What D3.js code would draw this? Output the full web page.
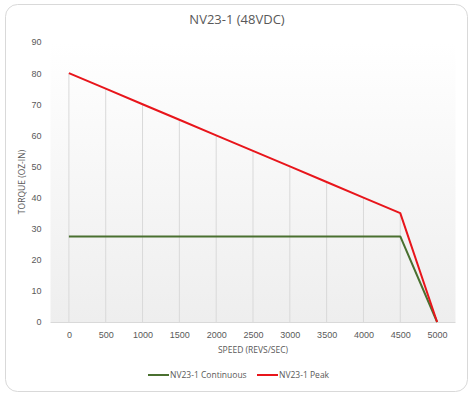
<!DOCTYPE html>
<html><head><meta charset="utf-8">
<script src="https://cdn.jsdelivr.net/npm/d3@7/dist/d3.min.js"></script>
<style>body{margin:0;background:#fff;}svg{display:block;font-family:"Open Sans","Liberation Sans",sans-serif;}</style>
</head><body>
<svg id="c" width="474" height="397"></svg>
<script>
const categories = [0,500,1000,1500,2000,2500,3000,3500,4000,4500,5000];
const continuous = [27.5,27.5,27.5,27.5,27.5,27.5,27.5,27.5,27.5,27.5,0];
const peak = [80,75,70,65,60,55,50,45,40,35,0];
const yTicks = [0,10,20,30,40,50,60,70,80,90];
const seriesNames = ["NV23-1 Continuous","NV23-1 Peak"];
const seriesColors = ["#4a7030","#e8151b"];

const svg = d3.select("#c");
const defs = svg.append("defs");
const g = defs.append("linearGradient").attr("id","bg").attr("x1",0).attr("y1",0).attr("x2",0).attr("y2",1);
g.append("stop").attr("offset","0%").attr("stop-color","#ffffff");
g.append("stop").attr("offset","100%").attr("stop-color","#eeeeee");

svg.append("rect").attr("x",5.5).attr("y",4.5).attr("width",462).attr("height",387)
  .attr("rx",12).attr("fill","#fff").attr("stroke","#d9d9d9");

const L=50.5,R=455.5,T=42,B=322;
const x = d3.scalePoint().domain(categories).range([L,R]).padding(0.5);
const y = d3.scaleLinear().domain([0,90]).range([B,T]);

svg.append("rect").attr("x",L).attr("y",T).attr("width",R-L).attr("height",B-T).attr("fill","url(#bg)");

// drop lines
svg.append("g").selectAll("line").data(categories).join("line")
  .attr("x1",d=>x(d)).attr("x2",d=>x(d))
  .attr("y1",(d,i)=>y(Math.max(peak[i],continuous[i]))).attr("y2",B)
  .attr("stroke","#d9d9d9").attr("stroke-width",1);

// x axis
svg.append("line").attr("x1",L).attr("x2",R).attr("y1",B+0.5).attr("y2",B+0.5).attr("stroke","#d9d9d9");
const xa = svg.append("g").attr("transform",`translate(0,${B})`)
  .call(d3.axisBottom(x).tickSize(0).tickPadding(10));
xa.select(".domain").remove();
xa.selectAll("text").attr("fill","#595959").style("font-size","9px");

const ya = svg.append("g").attr("transform",`translate(${L},0)`)
  .call(d3.axisLeft(y).tickValues(yTicks).tickSize(0).tickPadding(9));
ya.select(".domain").remove();
ya.selectAll("text").attr("fill","#595959").style("font-size","9px");

const line = d3.line().x((d,i)=>x(categories[i])).y(d=>y(d));
[continuous,peak].forEach((s,k)=>{
  svg.append("path").datum(s).attr("d",line).attr("fill","none")
    .attr("stroke",seriesColors[k]).attr("stroke-width",2).attr("stroke-linejoin","round");
});

svg.append("text").attr("x",237).attr("y",24).attr("text-anchor","middle")
  .attr("fill","#595959").style("font-size","13px").text("NV23-1 (48VDC)");
svg.append("text").attr("x",253).attr("y",353).attr("text-anchor","middle")
  .attr("fill","#595959").style("font-size","8.5px").text("SPEED (REVS/SEC)");
svg.append("text").attr("transform","translate(25,182) rotate(-90)").attr("text-anchor","middle")
  .attr("fill","#595959").style("font-size","8.5px").text("TORQUE (OZ-IN)");

const leg = [{x:148,tx:170},{x:257,tx:279}];
seriesNames.forEach((n,k)=>{
  svg.append("line").attr("x1",leg[k].x).attr("x2",leg[k].x+21).attr("y1",375).attr("y2",375)
    .attr("stroke",seriesColors[k]).attr("stroke-width",2);
  svg.append("text").attr("x",leg[k].tx).attr("y",378).attr("fill","#595959")
    .style("font-size","8.5px").text(n);
});
</script>
</body></html>
